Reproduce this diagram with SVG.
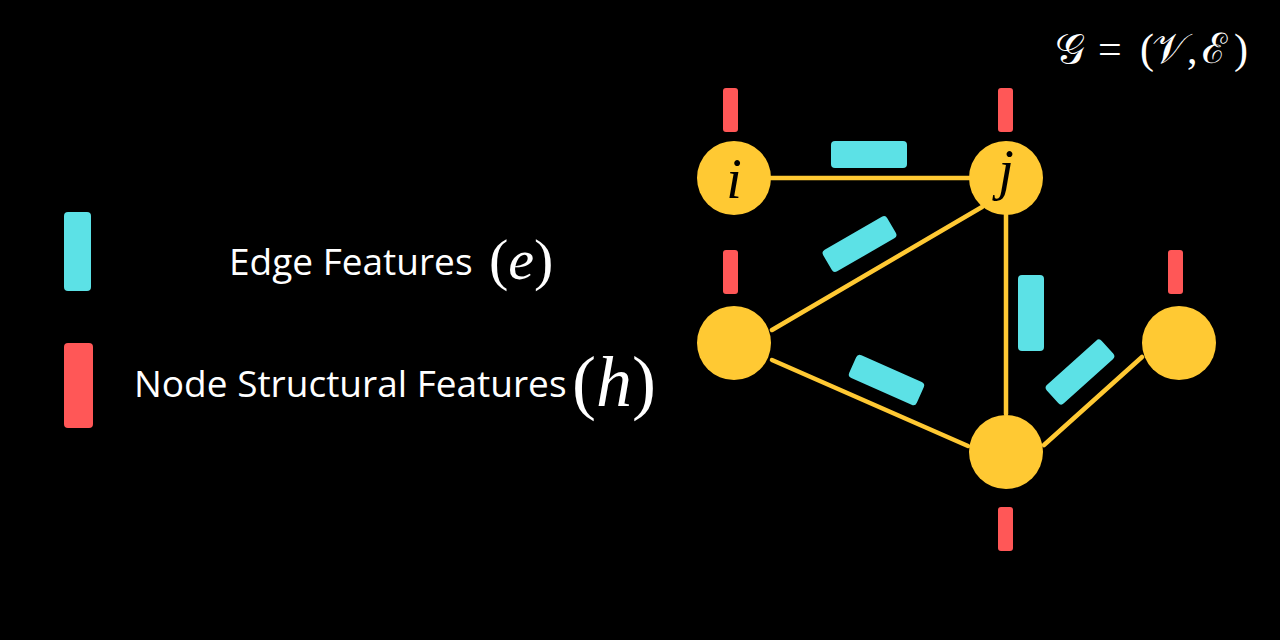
<svg xmlns="http://www.w3.org/2000/svg" width="1280" height="640" viewBox="0 0 1280 640">
<style>
.node{fill:#FFC933}
.edge{stroke:#FFC933;stroke-width:4.5;stroke-linecap:round;fill:none}
.ef{fill:#5CE1E6}
.nf{fill:#FF5757}
.lbl{font-family:"Open Sans","DejaVu Sans",sans-serif;fill:#FFFFFF;font-size:37px}
.math{fill:#FFFFFF;font-family:Liberation Serif,DejaVu Serif,serif}
.mi{font-family:Liberation Serif,DejaVu Serif,serif;font-style:italic}
.nl{fill:#000000;font-size:56px;text-anchor:middle}
</style>
<rect x="0" y="0" width="1280" height="640" fill="#000000"/>
<g id="title">
<text class="math" y="63" font-size="42"><tspan x="1055">𝒢</tspan><tspan x="1098">=</tspan><tspan x="1140">(</tspan><tspan x="1152">𝒱</tspan><tspan x="1187">,</tspan><tspan x="1202">ℰ</tspan><tspan x="1234">)</tspan></text>
</g>
<g id="legend">
<rect class="ef" x="64" y="212" width="27" height="79" rx="4"/>
<rect class="nf" x="64" y="343" width="29" height="85" rx="4"/>
<text class="lbl" x="229" y="275">Edge Features</text>
<text class="math" x="489" y="279" font-size="58">(<tspan class="mi">e</tspan>)</text>
<text class="lbl" x="134" y="397">Node Structural Features</text>
<text class="math" x="572" y="406" font-size="72">(<tspan class="mi">h</tspan>)</text>
</g>
<g id="connectors">
<line class="edge" x1="771" y1="178" x2="969" y2="178"/>
<line class="edge" x1="772" y1="330" x2="982" y2="207"/>
<line class="edge" x1="1006" y1="215" x2="1006" y2="414"/>
<line class="edge" x1="772" y1="360" x2="968" y2="446"/>
<line class="edge" x1="1044" y1="445" x2="1142" y2="357"/>
</g>
<g id="edge-features">
<rect class="ef" x="831" y="141" width="76" height="27" rx="4"/>
<rect class="ef" x="-37" y="-12.5" width="74" height="25" rx="4" transform="translate(859.5 244) rotate(-30)"/>
<rect class="ef" x="-37" y="-12.5" width="74" height="25" rx="4" transform="translate(886.5 380) rotate(24)"/>
<rect class="ef" x="1018" y="275" width="26" height="76" rx="4"/>
<rect class="ef" x="-37" y="-12.5" width="74" height="25" rx="4" transform="translate(1080 372) rotate(-42)"/>
</g>
<g id="node-i">
<circle class="node" cx="734" cy="178" r="37"/>
<rect class="nf" x="723" y="88" width="15" height="44" rx="3"/>
<text class="nl mi" x="734" y="198">i</text>
</g>
<g id="node-j">
<circle class="node" cx="1006" cy="178" r="37"/>
<rect class="nf" x="998" y="88" width="15" height="44" rx="3"/>
<text class="nl mi" x="1006" y="189">j</text>
</g>
<g id="node-left">
<circle class="node" cx="734" cy="343" r="37"/>
<rect class="nf" x="723" y="250" width="15" height="44" rx="3"/>
</g>
<g id="node-right">
<circle class="node" cx="1179" cy="343" r="37"/>
<rect class="nf" x="1168" y="250" width="15" height="44" rx="3"/>
</g>
<g id="node-bottom">
<circle class="node" cx="1006" cy="452" r="37"/>
<rect class="nf" x="998" y="507" width="15" height="44" rx="3"/>
</g>
</svg>
